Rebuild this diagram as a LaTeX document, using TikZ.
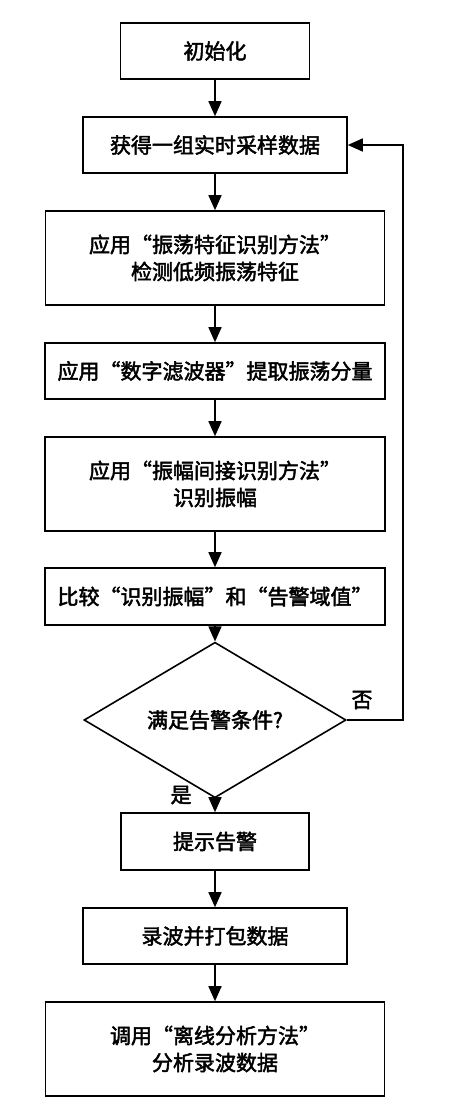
\documentclass[tikz,border=0pt]{standalone}
\usepackage{fontspec}
\newfontfamily\cjk[FakeBold=2.2]{Noto Sans CJK SC}
\usetikzlibrary{shapes.geometric,arrows.meta}
\tikzset{
  box/.style={draw, line width=1.6pt, rectangle, inner sep=0pt, align=center,
    font=\cjk\fontsize{21}{27}\selectfont},
  dia/.style={draw, line width=1.6pt, diamond, inner sep=0pt, minimum width=262pt,
    minimum height=112pt, font=\cjk\fontsize{21}{27}\selectfont},
  arr/.style={line width=1.6pt, -{Triangle[length=15pt,width=13pt]}},
  lbl/.style={font=\cjk\fontsize{21}{24}\selectfont, inner sep=0pt}
}
\begin{document}
\begin{tikzpicture}[x=1pt,y=-1pt]
\useasboundingbox (0,0) rectangle (474,1116);
\node[box, minimum width=189pt, minimum height=56pt] (b1) at (215,51) {初始化};
\node[box, minimum width=264pt, minimum height=56pt] (b2) at (215,145) {获得一组实时采样数据};
\node[box, minimum width=339pt, minimum height=94pt] (b3) at (215,258) {应用“振荡特征识别方法”\\检测低频振荡特征};
\node[box, minimum width=340pt, minimum height=56pt] (b4) at (215,371) {应用“数字滤波器”提取振荡分量};
\node[box, minimum width=340pt, minimum height=94pt] (b5) at (215,484) {应用“振幅间接识别方法”\\识别振幅};
\node[box, minimum width=340pt, minimum height=57pt] (b6) at (215,596.5) {比较“识别振幅”和“告警域值”};
\node[dia] (d) at (215,720) {满足告警条件?};
\node[box, minimum width=188pt, minimum height=57pt] (b7) at (215,841.5) {提示告警};
\node[box, minimum width=264pt, minimum height=56pt] (b8) at (215,936) {录波并打包数据};
\node[box, minimum width=339pt, minimum height=94pt] (b9) at (215,1049) {调用“离线分析方法”\\分析录波数据};
\coordinate (c) at (403,720);
\draw[arr] (b1) -- (b2);
\draw[arr] (b2) -- (b3);
\draw[arr] (b3) -- (b4);
\draw[arr] (b4) -- (b5);
\draw[arr] (b5) -- (b6);
\draw[arr] (b6) -- (d);
\draw[arr] (d) -- (b7);
\draw[arr] (b7) -- (b8);
\draw[arr] (b8) -- (b9);
\draw[arr] (d.east) -- (c) |- (b2.east);
\node[lbl] (no) at (362,700) {否};
\node[lbl] (yes) at (181,795) {是};
\end{tikzpicture}
\end{document}
